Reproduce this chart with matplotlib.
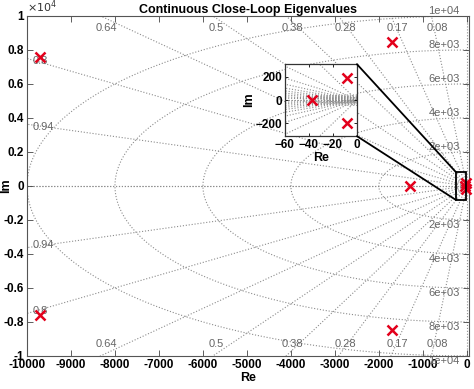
import numpy as np
import matplotlib.pyplot as plt
from matplotlib.ticker import FuncFormatter
from matplotlib.patches import ConnectionPatch, Rectangle

plt.rcParams['font.family'] = ['Liberation Sans', 'DejaVu Sans']

# eigenvalues
pole_re = [-9700, -9700, -1700, -1700, -1300, -37.5, -8, -8]
pole_im = [7600, -7600, 8450, -8450, 0, 0, 195, -195]

zetas = [0.08, 0.17, 0.28, 0.38, 0.5, 0.64, 0.8, 0.94]
wns = [2000, 4000, 6000, 8000, 10000]
wn_labels = ['2e+03', '4e+03', '6e+03', '8e+03', '1e+04']

inset_zetas = [0.1, 0.2, 0.3, 0.4, 0.5, 0.6, 0.7, 0.8, 0.9, 0.96]
inset_wns = [4, 8, 12, 16, 20, 24, 28, 35, 45]

grid_kw = dict(color='#8c8c8c', linestyle=':', linewidth=0.8, zorder=1)
red = '#e3001b'


def sgrid(ax, zs, ws, rmax):
    for z in zs + [1.0, 0.0]:
        th = np.arccos(z)
        ax.plot([0, -rmax * np.cos(th)], [0, rmax * np.sin(th)], **grid_kw)
        ax.plot([0, -rmax * np.cos(th)], [0, -rmax * np.sin(th)], **grid_kw)
    phi = np.linspace(np.pi / 2, 3 * np.pi / 2, 300)
    for w in ws:
        ax.plot(w * np.cos(phi), w * np.sin(phi), **grid_kw)


fig = plt.figure(figsize=(4.74, 3.89), dpi=100)
ax = fig.add_axes([0.057, 0.085, 0.932, 0.874])
sgrid(ax, zetas, wns, 20000)
ax.plot(pole_re, pole_im, 'x', color=red, markersize=7, mew=1.8, zorder=5,
        clip_on=False)
ax.set_xlim(-10000, 45)
ax.set_ylim(-10000, 10000)
ax.set_xticks(np.arange(-10000, 1, 1000))
ax.set_yticks(np.arange(-10000, 10001, 2000))
ax.yaxis.set_major_formatter(FuncFormatter(lambda v, p: f"{v / 1e4:g}"))
ax.xaxis.set_major_formatter(FuncFormatter(lambda v, p: f"{v:g}"))
ax.tick_params(direction='in', top=True, right=True, labelsize=8.5,
               length=4, width=0.6, color='#444444', pad=2)
for lab in ax.get_xticklabels() + ax.get_yticklabels():
    lab.set_fontweight('bold')
for s in ax.spines.values():
    s.set_color('#555555')
    s.set_linewidth(0.8)
ax.set_xlabel('Re', fontweight='bold', fontsize=9, labelpad=1)
ax.set_ylabel('Im', fontweight='bold', fontsize=9)
ax.yaxis.set_label_coords(-0.034, 0.5)
ax.set_title('Continuous Close-Loop Eigenvalues', fontweight='bold',
             fontsize=9, pad=2)
ax.text(0.0, 1.002, r'$\times10^4$', transform=ax.transAxes, fontsize=8,
        ha='left', va='bottom', color='#333333')

# damping labels
lab_kw = dict(color='#666666', fontsize=8, zorder=2)
for z in zetas:
    t = np.tan(np.arccos(z))
    x_top = -10000 / t
    if x_top > -10000:
        ax.text(x_top - 100, 9600, f"{z:g}", ha='left', va='top', **lab_kw)
        ax.text(x_top - 100, -9600, f"{z:g}", ha='left', va='bottom', **lab_kw)
    else:
        y_left = 10000 * t
        ax.text(-9870, y_left - 150, f"{z:g}", ha='left', va='center', **lab_kw)
        ax.text(-9870, -y_left + 150, f"{z:g}", ha='left', va='center', **lab_kw)
# natural frequency labels
for w, lbl in zip(wns, wn_labels):
    ax.text(-160, w, lbl, ha='right', va='bottom', clip_on=False, **lab_kw)
    ax.text(-160, -w, lbl, ha='right', va='top', clip_on=False, **lab_kw)

# zoom box
ax.add_patch(Rectangle((-250, -820), 230, 1640, fill=False, edgecolor='black',
                       linewidth=1.3, zorder=6))

ins = fig.add_axes([0.601, 0.650, 0.152, 0.185])
sgrid(ins, inset_zetas, inset_wns, 2000)
ins.plot(pole_re, pole_im, 'x', color=red, markersize=7, mew=1.8, zorder=5)
ins.set_xlim(-60, 0)
ins.set_ylim(-310, 310)
ins.set_xticks([-60, -40, -20, 0])
ins.set_yticks([-200, 0, 200])
ins.tick_params(direction='in', top=True, right=True, labelsize=8.5,
                length=2, width=0.6, pad=2)
for lab in ins.get_xticklabels() + ins.get_yticklabels():
    lab.set_fontweight('bold')
for s in ins.spines.values():
    s.set_color('#333333')
    s.set_linewidth(0.9)
ins.set_xlabel('Re', fontweight='bold', fontsize=9, labelpad=1)
ins.set_ylabel('Im', fontweight='bold', fontsize=9, labelpad=0)

for ya, yb in [(1, 820), (0, -820)]:
    con = ConnectionPatch(xyA=(1, ya), coordsA=ins.transAxes,
                          xyB=(-250, yb), coordsB=ax.transData,
                          color='black', linewidth=1.3, zorder=6)
    fig.add_artist(con)

fig.savefig('out.png', dpi=100)
